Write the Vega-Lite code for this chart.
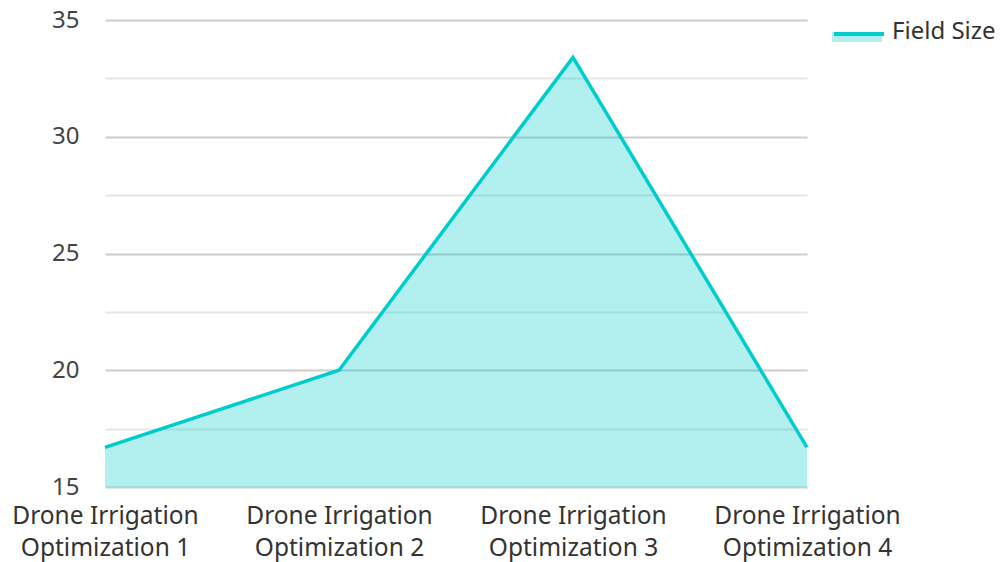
{
  "$schema": "https://vega.github.io/schema/vega-lite/v6.json",
  "autosize": "none",
  "padding": {"left": 105, "top": 20, "right": 195, "bottom": 75},
  "width": 702,
  "height": 467,
  "background": "white",
  "config": {"view": {"stroke": null}, "font": "Noto Sans"},
  "data": {"values": [
    {"label": "Drone Irrigation Optimization 1", "value": 16.7, "series": "Field Size", "name": "Field Size "},
    {"label": "Drone Irrigation Optimization 2", "value": 20.0, "series": "Field Size", "name": "Field Size "},
    {"label": "Drone Irrigation Optimization 3", "value": 33.4, "series": "Field Size", "name": "Field Size "},
    {"label": "Drone Irrigation Optimization 4", "value": 16.7, "series": "Field Size", "name": "Field Size "}
  ]},
  "encoding": {
    "x": {"field": "label", "type": "ordinal", "scale": {"type": "point", "padding": 0},
      "axis": {"title": null, "domain": false, "ticks": false, "grid": false, "labelAngle": 0,
        "labelFontSize": 24.5, "labelColor": "#333333", "labelFont": "Noto Sans", "labelPadding": 17,
        "labelLineHeight": 32, "labelOverlap": false, "labelLimit": 0,
        "labelExpr": "[slice(datum.label, 0, 16), slice(datum.label, 17)]"}}
  },
  "layer": [
    {
      "mark": {"type": "area", "fillOpacity": 0.3, "clip": true},
      "encoding": {
        "y": {"field": "value", "type": "quantitative", "scale": {"domain": [15, 35], "nice": false, "zero": false},
          "axis": {"title": null, "orient": "left", "values": [15, 20, 25, 30, 35], "domain": false, "ticks": false,
            "grid": true, "gridColor": "#cccccc", "gridWidth": 2, "labelFontSize": 24, "labelColor": "#444444",
            "labelFont": "Noto Sans", "labelPadding": 26}},
        "fill": {"field": "series", "type": "nominal", "scale": {"domain": ["Field Size"], "range": ["#00cccc"]},
          "legend": {"title": null, "orient": "none", "legendX": 727, "legendY": -13,
            "symbolType": "M-1,0H1V0.4H-1Z", "symbolSize": 2500, "symbolOpacity": 0.3, "symbolStrokeWidth": 0,
            "labelFontSize": 24, "labelColor": "#333333", "labelFont": "Noto Sans", "labelOffset": 10}}
      }
    },
    {
      "mark": {"type": "line", "strokeWidth": 3.5},
      "encoding": {
        "y": {"field": "value", "type": "quantitative", "scale": {"domain": [15, 35], "nice": false, "zero": false},
          "axis": {"title": null, "orient": "right", "values": [17.5, 22.5, 27.5, 32.5], "domain": false, "ticks": false,
            "labels": false, "grid": true, "gridColor": "#e6e6e6", "gridWidth": 2}},
        "stroke": {"field": "name", "type": "nominal", "scale": {"domain": ["Field Size "], "range": ["#00cccc"]},
          "legend": {"title": null, "orient": "none", "legendX": 727, "legendY": -13,
            "symbolType": "stroke", "symbolSize": 2500, "symbolStrokeWidth": 4, "labelExpr": "''",
            "labelFontSize": 24, "labelColor": "#333333", "labelFont": "Noto Sans", "labelOffset": 10}}
      }
    }
  ],
  "resolve": {"scale": {"y": "independent"}, "axis": {"y": "independent"}}
}
